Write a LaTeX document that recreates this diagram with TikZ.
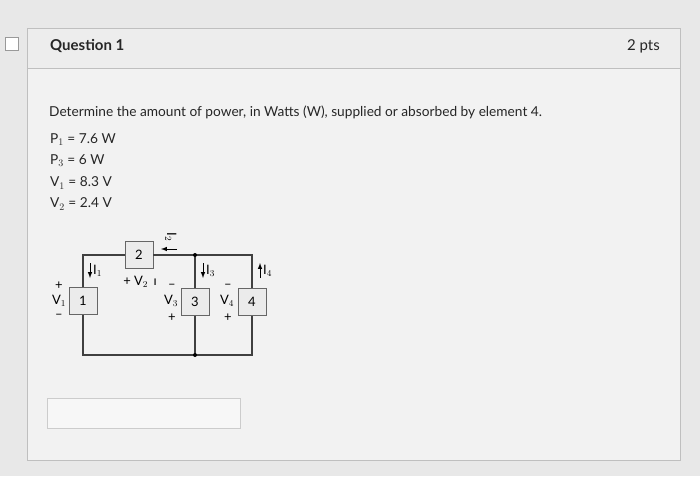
\documentclass[tikz,border=0pt]{standalone}
\usepackage{fontspec}
\setmainfont{Lato}
\begin{document}
\begin{tikzpicture}[x=1pt,y=-1pt,
  wire/.style={line width=1.3pt,draw=black!75},
  elem/.style={draw=black!60,fill=black!8,line width=0.8pt,minimum width=28pt,minimum height=27pt,inner sep=0pt,font=\fontsize{13}{13}\selectfont},
  lbl/.style={font=\fontsize{13}{13}\selectfont,inner sep=0pt},
  txt/.style={font=\fontsize{13.7}{13.7}\selectfont,anchor=west,inner sep=0pt,text=black!85},
  arr/.style={-latex,line width=1pt}]
\useasboundingbox (0,0) rectangle (700,476);
\fill[black!9] (0,0) rectangle (700,476);
\draw[black!25,fill=black!5] (27,28) rectangle (680,460);
\draw[black!25,fill=black!7] (27,28) rectangle (680,68);
\node[txt,font=\fontsize{15}{15}\selectfont\bfseries] (q) at (50,46) {Question 1};
\node[txt,anchor=east,font=\fontsize{15}{15}\selectfont] (pts) at (660,46) {2 pts};
\node[draw=black!40,fill=white,minimum width=13pt,minimum height=13pt,inner sep=0pt] (ic) at (12,44) {};
\node[txt] (t) at (49,112) {Determine the amount of power, in Watts (W), supplied or absorbed by element 4.};
\node[txt] (p1) at (50,140) {P$_1$ = 7.6 W};
\node[txt] (p3) at (50,161) {P$_3$ = 6 W};
\node[txt] (v1) at (50,183) {V$_1$ = 8.3 V};
\node[txt] (v2) at (50,204) {V$_2$ = 2.4 V};
\draw[black!20,fill=black!3] (47,398) rectangle (240,428);
% circuit
\coordinate (tl) at (83,255); \coordinate (bl) at (83,355);
\coordinate (tm) at (195,255); \coordinate (bm) at (195,355);
\coordinate (tr) at (252,255); \coordinate (br) at (252,355);
\node[elem] (e1) at (83,301) {1};
\node[elem] (e2) at (139,255) {2};
\node[elem] (e3) at (195,302) {3};
\node[elem] (e4) at (252,302) {4};
\draw[wire] (e1.north) -- (tl) -- (e2.west);
\draw[wire] (e2.east) -- (tm) -- (tr) -- (e4.north);
\draw[wire] (tm) -- (e3.north);
\draw[wire] (e1.south) -- (bl) -- (bm) -- (br) -- (e4.south);
\draw[wire] (e3.south) -- (bm);
\fill (tm) circle (2pt); \fill (bm) circle (2pt);
% labels
\node[lbl] (pl1) at (59,286) {+};
\node[lbl] (vl1) at (59,301) {V$_1$};
\node[lbl] (ml1) at (59,316) {--};
\coordinate (a1s) at (90,263); \coordinate (a1e) at (90,278);
\draw[arr] (a1s) -- (a1e);
\node[lbl,anchor=west] (il1) at (93,271) {I$_1$};
\node[lbl] (v2l) at (140,282) {+ V$_2$ \,ı};
\node[lbl,rotate=-90] (i2l) at (171,237) {I$_2$};
\coordinate (a2s) at (177,249); \coordinate (a2e) at (161,249);
\draw[arr] (a2s) -- (a2e);
\node[lbl] (m3) at (172,286) {--};
\node[lbl] (vl3) at (171,301) {V$_3$};
\node[lbl] (p3l) at (172,318) {+};
\coordinate (a3s) at (203,263); \coordinate (a3e) at (203,278);
\draw[arr] (a3s) -- (a3e);
\node[lbl,anchor=west] (il3) at (206,271) {I$_3$};
\node[lbl] (m4) at (228,286) {--};
\node[lbl] (vl4) at (227,301) {V$_4$};
\node[lbl] (p4l) at (228,318) {+};
\coordinate (a4s) at (260,278); \coordinate (a4e) at (260,263);
\draw[arr] (a4s) -- (a4e);
\node[lbl,anchor=west] (il4) at (263,271) {I$_4$};
\end{tikzpicture}
\end{document}
